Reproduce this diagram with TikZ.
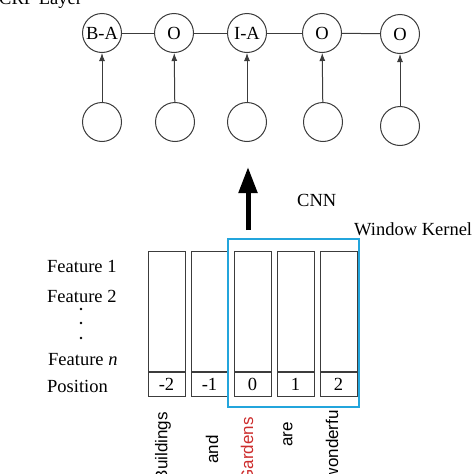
\documentclass[tikz,border=0pt]{standalone}
\usepackage{fontspec}
\setmainfont{Liberation Serif}
\newfontfamily\wordfont{Liberation Sans}
\usetikzlibrary{shapes,arrows,arrows.meta,positioning}
\definecolor{linegray}{RGB}{60,60,60}
\definecolor{kernelblue}{RGB}{35,165,220}
\definecolor{wordred}{RGB}{205,45,45}
\tikzstyle{crfnode}  = [circle, draw=linegray, line width=1pt, minimum size=39pt, inner sep=0pt]
\tikzstyle{cell}     = [rectangle, draw=linegray, line width=1pt, minimum width=37pt, inner sep=0pt]
\tikzstyle{line}     = [draw=linegray, line width=1pt, -{Latex[length=8pt,width=6pt]}]
\tikzstyle{link}     = [draw=linegray, line width=1pt]
\tikzstyle{sidetext} = [inner sep=0pt, anchor=base west]
\tikzstyle{word}     = [rotate=90, anchor=east, inner sep=0pt, font=\wordfont\fontsize{17}{19}\selectfont]

\begin{document}
\begin{tikzpicture}[x=1pt, y=-1pt, font=\fontsize{18.5}{20}\selectfont]
	\useasboundingbox (0,0) rectangle (474,474);

		% Node Setting %

		% CRF layer =================================%
		\node [sidetext] (crftitle) at (-1,4) {CRF Layer};
		\node [crfnode] (crf1) at (102,33) {B-A};
		\node [crfnode] (crf2) at (174,33) {O};
		\node [crfnode] (crf3) at (247,33) {I-A};
		\node [crfnode] (crf4) at (322,33) {O};
		\node [crfnode] (crf5) at (400,34) {O};
		% inputs ====================================%
		\node [crfnode] (in1) at (102,122) {};
		\node [crfnode] (in2) at (175,122) {};
		\node [crfnode] (in3) at (247,122) {};
		\node [crfnode] (in4) at (323,122) {};
		\node [crfnode] (in5) at (400,126) {};
		% CNN =======================================%
		\coordinate (cnnbase) at (248,230);
		\coordinate (cnntip) at (248,167);
		\node [sidetext] (cnn) at (297,206) {CNN};
		\node [sidetext] (kernel) at (354,235) {Window Kernel};
		% columns ===================================%
		\node [cell, minimum height=120pt] (col1) at (166.5,311) {};
		\node [cell, minimum height=120pt, right=5pt of col1] (col2) {};
		\node [cell, minimum height=120pt, right=5pt of col2] (col3) {};
		\node [cell, minimum height=120pt, right=5pt of col3] (col4) {};
		\node [cell, minimum height=120pt, right=5pt of col4] (col5) {};
		% positions =================================%
		\node [cell, minimum height=24pt, below=0pt of col1] (pos1) {-2};
		\node [cell, minimum height=24pt, below=0pt of col2] (pos2) {-1};
		\node [cell, minimum height=24pt, below=0pt of col3] (pos3) {0};
		\node [cell, minimum height=24pt, below=0pt of col4] (pos4) {1};
		\node [cell, minimum height=24pt, below=0pt of col5] (pos5) {2};
		% row names =================================%
		\node [sidetext] (feat1) at (47,272) {Feature 1};
		\node [sidetext] (feat2) at (47,302) {Feature 2};
		\node [sidetext] (featn) at (48,365) {Feature \textit{n}};
		\node [sidetext] (position) at (47,392) {Position};
		\foreach \y in {309,323,338}
			\fill (81,\y) circle (1.3pt);
		% words =====================================%
		\node [word] (w1) at (163,412) {Buildings};
		\node [word] (w2) at (212,435) {and};
		\node [word, text=wordred] (w3) at (247,417) {Gardens};
		\node [word] (w4) at (288,422) {are};
		\node [word] (w5) at (332,410) {wonderfu};
		%===========================================%

		% Connection %

		\path [link] (crf1) -- (crf2);
		\path [link] (crf2) -- (crf3);
		\path [link] (crf3) -- (crf4);
		\path [link] (crf4) -- (crf5);
		\path [line] (in1) -- (crf1);
		\path [line] (in2) -- (crf2);
		\path [line] (in3) -- (crf3);
		\path [line] (in4) -- (crf4);
		\path [line] (in5) -- (crf5);
		\draw [line width=5pt, -{Triangle[length=26pt,width=18pt]}] (cnnbase) -- (cnntip);
		\draw [kernelblue, line width=2.5pt] (228,239) rectangle (359,407);
	\end{tikzpicture}
\end{document}
